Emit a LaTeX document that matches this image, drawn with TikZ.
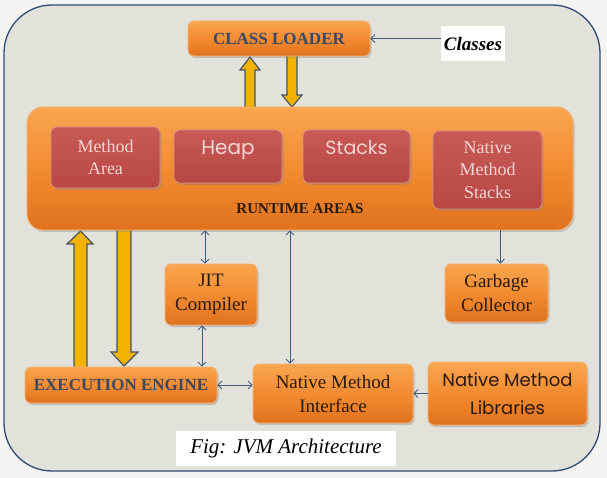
\documentclass[tikz,border=0pt]{standalone}
\usepackage{fontspec}
\setmainfont{Liberation Serif}
\newfontfamily\handfont{Poppins}
\usetikzlibrary{shadows,arrows.meta,calc}
\definecolor{bgout}{HTML}{F4F4F2}
\definecolor{bgin}{HTML}{E2E1DA}
\definecolor{frameC}{HTML}{2F4A78}
\definecolor{orT}{HTML}{F8A650}
\definecolor{orM}{HTML}{F38B31}
\definecolor{orB}{HTML}{E0721E}
\definecolor{orEdge}{HTML}{F5B274}
\definecolor{rdT}{HTML}{C85A56}
\definecolor{rdB}{HTML}{B84744}
\definecolor{rdEdge}{HTML}{D98F8C}
\definecolor{rdText}{HTML}{F2D6D2}
\definecolor{slate}{HTML}{3B4863}
\definecolor{rtText}{HTML}{2A1B0E}
\definecolor{boxText}{HTML}{2B1A10}
\definecolor{yel}{HTML}{F2B300}
\definecolor{yelEdge}{HTML}{44546A}
\definecolor{connC}{HTML}{3F5C82}
\tikzset{
  orbox/.style={draw=orEdge, line width=0.8pt, rounded corners=6pt,
    top color=orT, bottom color=orB, middle color=orM,
    drop shadow={opacity=0.35, shadow xshift=1.5pt, shadow yshift=-2pt},
    align=center, inner sep=0pt, text=boxText},
  redbox/.style={draw=rdEdge, line width=0.8pt, rounded corners=6pt,
    top color=rdT, bottom color=rdB,
    drop shadow={opacity=0.35, shadow xshift=1.5pt, shadow yshift=-2pt},
    align=center, inner sep=0pt, text=rdText},
  headfont/.style={font=\bfseries\fontsize{17}{20}\selectfont},
  boxfont/.style={font=\fontsize{19}{24}\selectfont},
  redfont/.style={font=\fontsize{18}{22.5}\selectfont},
  yarrow/.style={fill=yel, draw=yelEdge, line width=1.2pt, line join=miter},
  cline/.style={draw=connC, line width=0.8pt},
  >={Straight Barb[length=4pt,width=8pt]},
  whitebox/.style={fill=white, inner sep=0pt}
}
\begin{document}
\begin{tikzpicture}[x=1pt,y=-1pt]
\fill[bgout] (0,0) rectangle (607,478);
\useasboundingbox (0,0) rectangle (607,478);
\draw[frameC, line width=1.3pt, fill=bgin, rounded corners=48pt] (4,5) rectangle (600,471);

% yellow block arrows (drawn first, ends hidden under boxes)
\draw[yarrow] (245,112) -- (245,70) -- (240,70) -- (250,57) -- (260,70) -- (255,70) -- (255,112) -- cycle;
\draw[yarrow] (287,52) -- (287,95) -- (282,95) -- (292,107) -- (302,95) -- (297,95) -- (297,52) -- cycle;
\draw[yarrow] (74,380) -- (74,244) -- (67,244) -- (80.5,231) -- (93,244) -- (87,244) -- (87,380) -- cycle;
\draw[yarrow] (117,225) -- (117,352) -- (111,352) -- (124,366) -- (138,352) -- (131,352) -- (131,225) -- cycle;

% class loader and classes
\node[orbox, headfont, text=slate, minimum width=182pt, minimum height=35pt] (cl) at (279,38.5) {CLASS LOADER};
\node[whitebox, minimum width=64pt, minimum height=35pt, font=\bfseries\itshape\fontsize{19}{22}\selectfont] (cls) at (473,44) {Classes};

% runtime areas
\node[orbox, minimum width=546pt, minimum height=123pt, rounded corners=16pt] (rt) at (300,168.5) {};
\node[font=\bfseries\fontsize{15}{17}\selectfont, text=rtText, inner sep=0pt] (rtl) at (300,209) {RUNTIME AREAS};
\node[redbox, redfont, minimum width=109pt, minimum height=61pt] (ma) at (105.5,157.5) {Method\\Area};
\node[redbox, minimum width=108pt, minimum height=53pt] (heap) at (228,156.5) {};
\node[text=rdText, font=\handfont\fontsize{20}{24}\selectfont, inner sep=0pt] (heapl) at (228,150) {Heap};
\node[redbox, minimum width=107pt, minimum height=53pt] (stk) at (356.5,156.5) {};
\node[text=rdText, font=\handfont\fontsize{19}{24}\selectfont, inner sep=0pt] (stkl) at (356.5,148) {Stacks};
\node[redbox, redfont, minimum width=109pt, minimum height=78pt] (nms) at (487.5,170) {Native\\Method\\Stacks};

% lower boxes
\node[orbox, boxfont, minimum width=92pt, minimum height=61pt] (jit) at (211,294.5) {JIT\\Compiler};
\node[orbox, boxfont, minimum width=103pt, minimum height=58pt] (gc) at (496.5,293) {Garbage\\Collector};
\node[orbox, headfont, text=slate, minimum width=192pt, minimum height=36pt] (exec) at (121,385) {EXECUTION ENGINE};
\node[orbox, boxfont, minimum width=160pt, minimum height=59pt] (nmi) at (333,393.5) {Native Method\\Interface};
\node[orbox, font=\handfont\fontsize{18}{28}\selectfont, minimum width=159pt, minimum height=63pt] (nml) at (507.5,393.5) {Native Method\\Libraries};

% caption
\node[whitebox, minimum width=220pt, minimum height=35pt, font=\itshape\fontsize{21}{24}\selectfont] (cap) at (286,448.5) {Fig: JVM Architecture};

% connectors
\draw[cline,->] (cls.west |- cl.east) -- (cl.east);
\draw[cline,<->] ($(rt.south -| jit.north)+(-6,0)$) -- ($(jit.north)+(-6,0)$);
\draw[cline,<->] ($(jit.south)+(-9,0)$) -- ($(exec.north -| jit.south)+(-9,0)$);
\draw[cline,<->] ($(rt.south -| nmi.north)+(-43,0)$) -- ($(nmi.north)+(-43,0)$);
\draw[cline,->] ($(rt.south -| gc.north)+(4,0)$) -- ($(gc.north)+(4,0)$);
\draw[cline,<->] (exec.east) -- (exec.east -| nmi.west);
\draw[cline,->] (nml.west) -- (nml.west -| nmi.east);
\end{tikzpicture}
\end{document}
